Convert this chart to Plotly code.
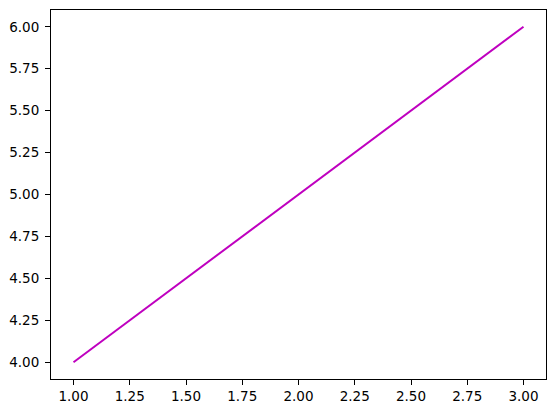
import plotly.graph_objects as go

x_vals = [1, 2, 3]
y_vals = [4, 5, 6]
x_ticks = [1.0, 1.25, 1.5, 1.75, 2.0, 2.25, 2.5, 2.75, 3.0]
y_ticks = [4.0, 4.25, 4.5, 4.75, 5.0, 5.25, 5.5, 5.75, 6.0]

fig = go.Figure()
fig.add_trace(go.Scatter(x=x_vals, y=y_vals, mode="lines",
                         line=dict(color="#bf00bf", width=2)))

# matplotlib-like box axes: outward ticks, no grid
axis_style = dict(showline=True, linecolor="black", linewidth=1.1, mirror=True,
                  ticks="outside", ticklen=5, tickcolor="black", tickwidth=1.1,
                  showgrid=False, zeroline=False, tickformat=".2f",
                  automargin=False,
                  tickfont=dict(family="DejaVu Sans", size=13.5, color="black"))

fig.update_xaxes(range=[0.9, 3.1], tickvals=x_ticks, ticklabelstandoff=0, **axis_style)
fig.update_yaxes(range=[3.9, 6.1], tickvals=y_ticks, ticklabelstandoff=3, **axis_style)

# page body adds 8px, so the figure is sized to the rest of the window
fig.update_layout(width=548, height=405, showlegend=False,
                  plot_bgcolor="white", paper_bgcolor="white",
                  margin=dict(l=42.5, r=9.5, t=1.5, b=34))

fig.write_html("out.html")
